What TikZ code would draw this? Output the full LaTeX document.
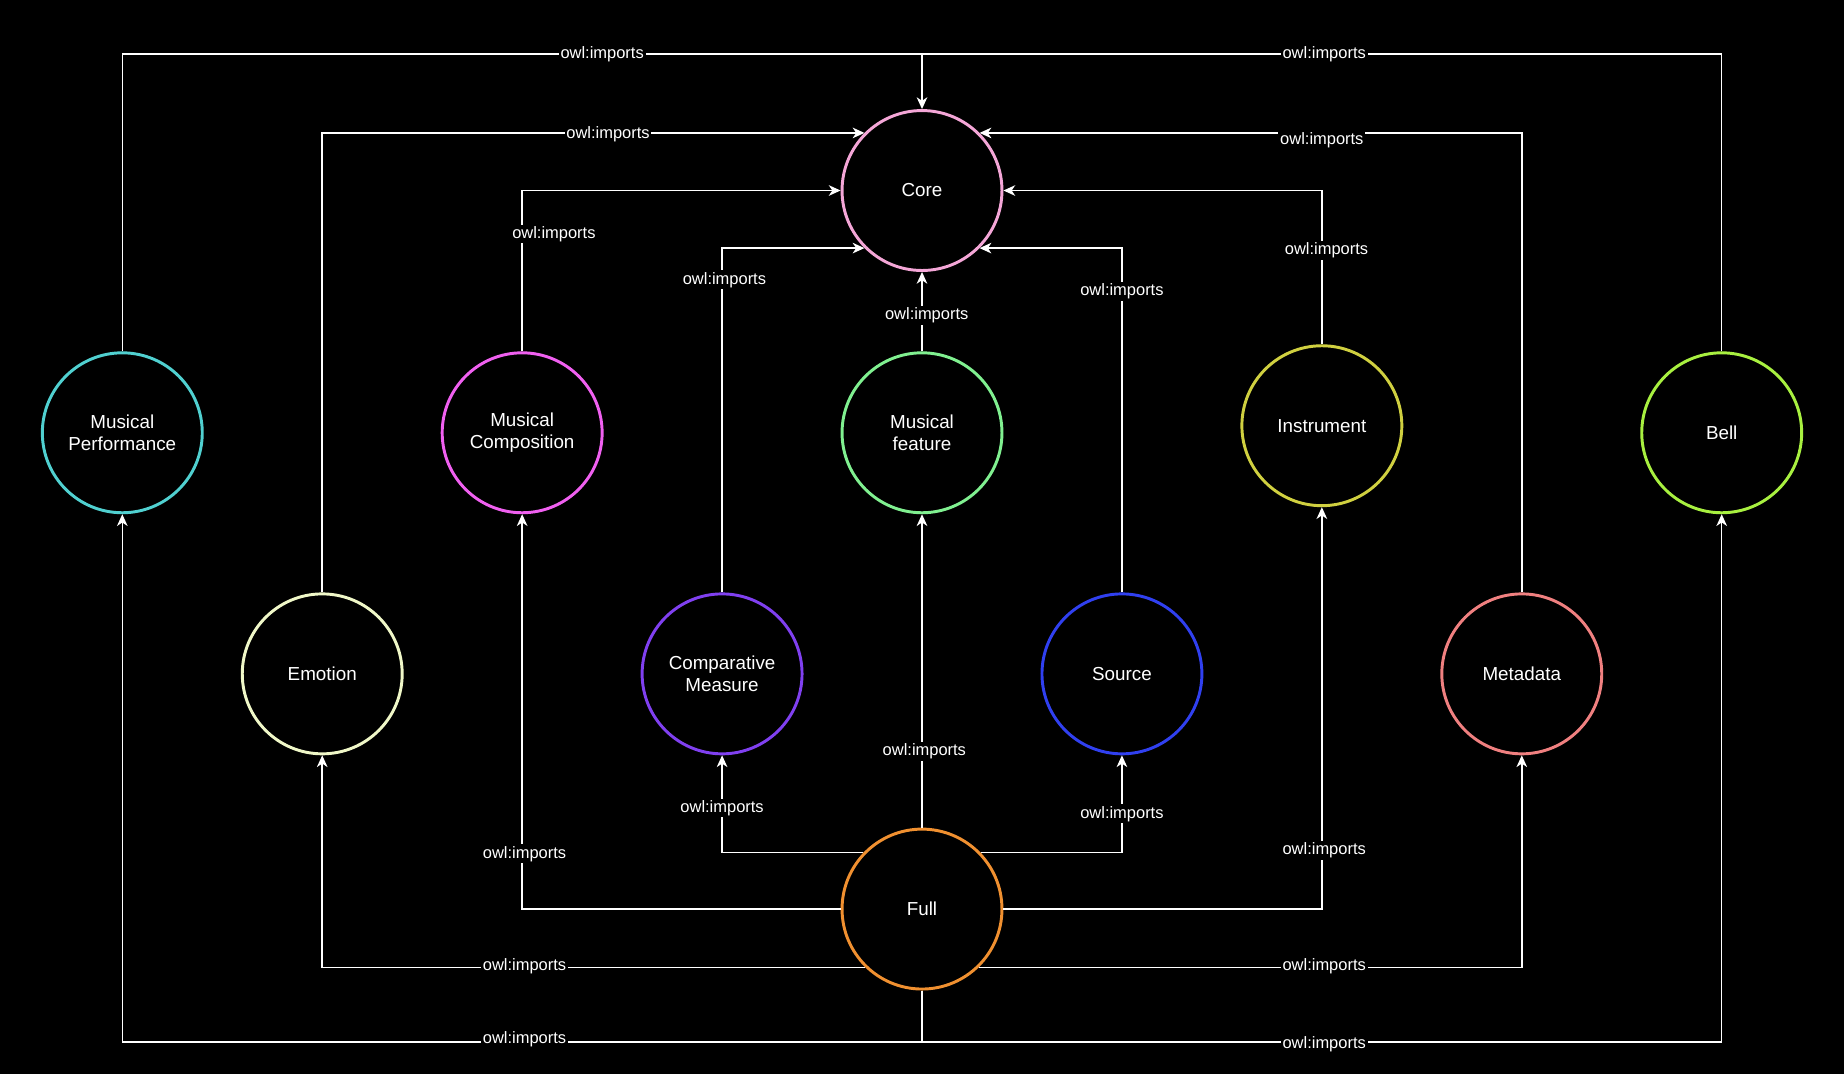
\documentclass[tikz,border=0pt]{standalone}
\usepackage{fontspec}
\setmainfont{Liberation Sans}
\usetikzlibrary{arrows.meta}
\begin{document}
\begin{tikzpicture}[x=1pt,y=-1pt,
  onto/.style={circle,minimum size=136pt,inner sep=0pt,line width=2.5pt,text=white,align=center,font=\fontsize{16}{19}\selectfont},
  arr/.style={draw=white,line width=1.3pt,-{Stealth[length=10pt,width=9pt,inset=3pt]}},
  lbl/.style={fill=black,text=white,inner sep=1.5pt,font=\fontsize{14}{16}\selectfont}]
\fill[black] (0,0) rectangle (1568,913);
\useasboundingbox (0,0) rectangle (1568,913);
\node[onto,draw={rgb,255:red,244;green,166;blue,215}] (core) at (784,162) {Core};
\node[onto,draw={rgb,255:red,80;green,208;blue,208}] (mp) at (104,368) {Musical\\Performance};
\node[onto,draw={rgb,255:red,240;green,96;blue,240}] (mc) at (444,368) {Musical\\Composition};
\node[onto,draw={rgb,255:red,128;green,240;blue,144}] (mf) at (784,368) {Musical\\feature};
\node[onto,draw={rgb,255:red,208;green,208;blue,64}] (ins) at (1124,362) {Instrument};
\node[onto,draw={rgb,255:red,168;green,240;blue,64}] (bell) at (1464,368) {Bell};
\node[onto,draw={rgb,255:red,240;green,248;blue,200}] (emo) at (274,573) {Emotion};
\node[onto,draw={rgb,255:red,128;green,64;blue,240}] (cm) at (614,573) {Comparative\\Measure};
\node[onto,draw={rgb,255:red,48;green,64;blue,240}] (src) at (954,573) {Source};
\node[onto,draw={rgb,255:red,240;green,128;blue,128}] (meta) at (1294,573) {Metadata};
\node[onto,draw={rgb,255:red,240;green,144;blue,48}] (full) at (784,773) {Full};
% to core
\draw[arr] (mp.north) |- (784,46) -- (core.north);
\draw[draw=white,line width=1.3pt] (bell.north) |- (784,46);
\node[lbl] at (512,46) {owl:imports};
\node[lbl] at (1126,46) {owl:imports};
\draw[arr] (emo.north) |- (core.135);
\node[lbl] at (517,114) {owl:imports};
\draw[arr] (meta.north) |- (core.45);
\node[lbl] at (1124,119) {owl:imports};
\draw[arr] (mc.north) |- (core.west);
\node[lbl] at (471,199) {owl:imports};
\draw[arr] (ins.north) |- (core.east);
\node[lbl] at (1128,213) {owl:imports};
\draw[arr] (cm.north) |- (core.225);
\node[lbl] at (616,238) {owl:imports};
\draw[arr] (src.north) |- (core.315);
\node[lbl] at (954,248) {owl:imports};
\draw[arr] (mf.north) -- (core.south);
\node[lbl] at (788,268) {owl:imports};
% from full
\draw[arr] (full.north) -- (mf.south);
\node[lbl] at (786,639) {owl:imports};
\draw[arr] (full.136) -| (cm.south);
\node[lbl] at (614,687) {owl:imports};
\draw[arr] (full.44) -| (src.south);
\node[lbl] at (954,692) {owl:imports};
\draw[arr] (full.west) -| (mc.south);
\node[lbl] at (446,726) {owl:imports};
\draw[arr] (full.east) -| (ins.south);
\node[lbl] at (1126,723) {owl:imports};
\draw[arr] (full.226) -| (emo.south);
\node[lbl] at (446,822) {owl:imports};
\draw[arr] (full.314) -| (meta.south);
\node[lbl] at (1126,822) {owl:imports};
\draw[arr] (full.south) |- (104,886) -- (mp.south);
\draw[arr] (full.south) |- (1464,886) -- (bell.south);
\node[lbl] at (446,884) {owl:imports};
\node[lbl] at (1126,888) {owl:imports};
\end{tikzpicture}
\end{document}
